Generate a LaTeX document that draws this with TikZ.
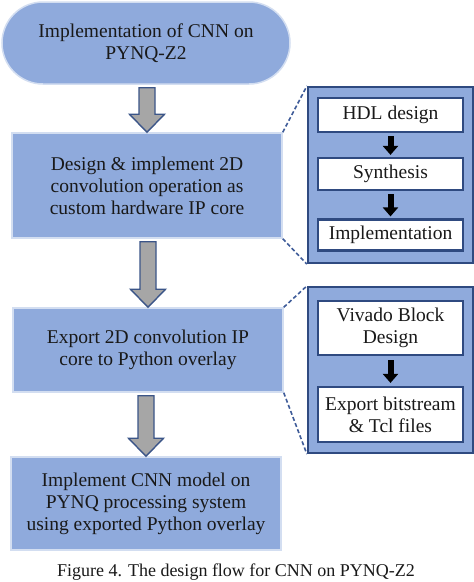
\documentclass[tikz,border=0pt]{standalone}
\usepackage{fontspec}
\setmainfont{Liberation Serif}
\usetikzlibrary{arrows.meta,calc}
\definecolor{boxfill}{HTML}{8FAADC}
\definecolor{boxedge}{HTML}{D3DEF1}
\definecolor{panelfill}{HTML}{8FAADC}
\definecolor{paneledge}{HTML}{2F4A80}
\definecolor{arrowfill}{HTML}{A6A6A6}
\definecolor{arrowedge}{HTML}{3B5588}
\definecolor{dashc}{HTML}{3F5C99}
\tikzset{
  mainbox/.style={draw=boxedge, line width=1.5pt, fill=boxfill, align=center,
    inner sep=0pt, font=\fontsize{19.5}{22}\selectfont, text=black!90},
  panelbox/.style={draw=paneledge, line width=2.2pt, fill=panelfill, inner sep=0pt},
  subbox/.style={draw=paneledge, line width=2.2pt, fill=white, align=center,
    inner sep=0pt, minimum width=145pt, font=\fontsize{19.5}{22}\selectfont, text=black!90},
  zoomline/.style={draw=dashc, line width=1.6pt, dash pattern=on 4pt off 2.5pt},
  bigarrow/.style={draw=arrowedge, line width=1.4pt, fill=arrowfill, line join=miter},
  smallarrow/.style={draw=black, line width=6pt, -{Triangle[width=15pt,length=9pt]}},
}
\newcommand{\flowarrow}[2]{%
  \path[bigarrow] let \p1=(#1.south), \p2=(#2.north) in
    (\x2-8pt,\y1-3pt) -- (\x2+8pt,\y1-3pt) -- (\x2+8pt,\y2+18pt) --
    (\x2+17.5pt,\y2+18pt) -- (\x2,\y2) -- (\x2-17.5pt,\y2+18pt) --
    (\x2-8pt,\y2+18pt) -- cycle;}
\begin{document}
\begin{tikzpicture}[x=1pt,y=-1pt]
\useasboundingbox[fill=white] (0,0) rectangle (474,582);
% main flow
\node[mainbox, rounded corners=41pt, minimum width=288pt, minimum height=82pt]
  (b1) at (146,43) {Implementation of CNN on\\PYNQ-Z2};
\node[mainbox, minimum width=270pt, minimum height=105pt]
  (b2) at (147,185.5) {Design \& implement 2D\\convolution operation as\\custom hardware IP core};
\node[mainbox, minimum width=270pt, minimum height=84pt]
  (b3) at (148,350) {Export 2D convolution IP\\core to Python overlay};
\node[mainbox, minimum width=270pt, minimum height=93pt]
  (b4) at (146,503.5) {Implement CNN model on\\PYNQ processing system\\using exported Python overlay};
\flowarrow{b1}{b2}
\flowarrow{b2}{b3}
\flowarrow{b3}{b4}
% panel 1
\node[panelbox, minimum width=165pt, minimum height=176pt] (p1) at (390.5,175) {};
\node[subbox, minimum height=34pt] (hdl) at (390.5,115) {HDL design};
\node[subbox, minimum height=32pt] (syn) at (390.5,174) {Synthesis};
\node[subbox, minimum height=31pt] (imp) at (390.5,235) {Implementation};
\draw[smallarrow] ($(hdl.south)+(0,3)$) -- ($(syn.north)+(0,-2)$);
\draw[smallarrow] ($(syn.south)+(0,3)$) -- ($(imp.north)+(0,-2)$);
% panel 2
\node[panelbox, minimum width=165pt, minimum height=166pt] (p2) at (390.5,370) {};
\node[subbox, minimum height=54pt] (viv) at (390.5,328) {Vivado Block\\Design};
\node[subbox, minimum height=55pt] (exp) at (390.5,414.5) {Export bitstream\\\& Tcl files};
\draw[smallarrow] ($(viv.south)+(0,4)$) -- ($(exp.north)+(0,-3)$);
% zoom lines
\draw[zoomline] (b2.north east) -- (p1.north west);
\draw[zoomline] (b2.south east) -- (p1.south west);
\draw[zoomline] (b3.north east) -- (p2.north west);
\draw[zoomline] (b3.south east) -- (p2.south west);
% caption
\node[font=\fontsize{18}{21}\selectfont, text=black!90] (cap) at (236,572)
  {Figure 4. The design flow for CNN on PYNQ-Z2};
\end{tikzpicture}
\end{document}
